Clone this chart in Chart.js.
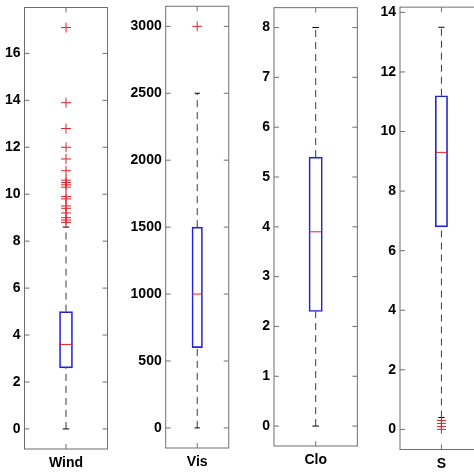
<!DOCTYPE html>
<html><head><meta charset="utf-8">
<script src="https://cdn.jsdelivr.net/npm/chart.js@4"></script>
<style>
html,body{margin:0;padding:0;background:#fff;overflow:hidden;width:474px;height:474px;position:relative}
canvas{position:absolute;top:0}
</style></head>
<body>
<canvas id="c0"></canvas><canvas id="c1"></canvas><canvas id="c2"></canvas><canvas id="c3"></canvas>
<script>
// ---- data ----
const categories = ['Wind', 'Vis', 'Clo', 'S'];
const q1 = [2.6, 600, 2.3, 6.8];
const median = [3.6, 1000, 3.9, 9.3];
const q3 = [5.0, 1500, 5.4, 11.2];
const whiskerLow = [0, 0, 0, 0.4];
const whiskerHigh = [8.6, 2500, 8, 13.5];
const outliersWind = [8.8, 8.9, 9.0, 9.2, 9.4, 9.5, 9.8, 9.9, 10.3, 10.4, 10.5, 10.6, 11.0, 11.5, 12.0, 12.8, 13.9, 17.1];
const outliersVis = [3000];
const outliersClo = [];
const outliersS = [0.0, 0.1, 0.2, 0.3];
const outliers = [outliersWind, outliersVis, outliersClo, outliersS];
const yMin = [-0.855, -150, -0.4, -0.675];
const yMax = [17.955, 3150, 8.4, 14.175];
const ticksWind = [0, 2, 4, 6, 8, 10, 12, 14, 16];
const ticksVis = [0, 500, 1000, 1500, 2000, 2500, 3000];
const ticksClo = [0, 1, 2, 3, 4, 5, 6, 7, 8];
const ticksS = [0, 2, 4, 6, 8, 10, 12, 14];
const yTicks = [ticksWind, ticksVis, ticksClo, ticksS];

// ---- layout (pixels) ----
const layout = [
  {left: 0,   width: 115, areaLeft: 24.5, areaRight: 107.5, top: 5,   bottom: 449, box: 13,   cross: 5},
  {left: 115, width: 120, areaLeft: 165.7, areaRight: 232.7, top: 5,  bottom: 448, box: 10.5, cross: 5},
  {left: 235, width: 130, areaLeft: 274, areaRight: 361.3, top: 6,    bottom: 446, box: 13.3, cross: 5},
  {left: 365, width: 125, areaLeft: 400, areaRight: 483.4, top: 5.8,  bottom: 449.5, box: 12.3, cross: 4.5}
];

const BLUE = '#2323d8', RED = '#e8202a', DASH = '#3a3a3a', FRAME = '#6f6f6f';
const FONT = {family: "'Liberation Sans', Arial, sans-serif", size: 14, weight: 'bold'};

const framePlugin = {
  id: 'frame',
  afterDraw(chart) {
    const {ctx, chartArea: a, scales} = chart;
    const T = 5;
    ctx.save();
    ctx.strokeStyle = FRAME;
    ctx.lineWidth = 1;
    ctx.strokeRect(a.left, a.top, a.right - a.left, a.bottom - a.top);
    ctx.beginPath();
    scales.y.ticks.forEach(t => {
      const y = scales.y.getPixelForValue(t.value);
      ctx.moveTo(a.left, y); ctx.lineTo(a.left + T, y);
      ctx.moveTo(a.right, y); ctx.lineTo(a.right - T, y);
    });
    scales.x.ticks.forEach((t, i) => {
      const x = scales.x.getPixelForTick(i);
      ctx.moveTo(x, a.bottom); ctx.lineTo(x, a.bottom - T);
      ctx.moveTo(x, a.top); ctx.lineTo(x, a.top + T);
    });
    ctx.stroke();
    ctx.restore();
  }
};

categories.forEach((cat, i) => {
  const L = layout[i];
  const cv = document.getElementById('c' + i);
  cv.width = L.width; cv.height = 474;
  cv.style.left = L.left + 'px';
  cv.style.width = L.width + 'px'; cv.style.height = '474px';
  new Chart(cv, {
    type: 'bar',
    data: {
      labels: [cat],
      datasets: [
        {type: 'line', data: [{x: cat, y: median[i]}], showLine: false, pointStyle: 'line',
          pointRadius: L.box / 2, pointBorderColor: RED, pointBorderWidth: 1, order: 0},
        {type: 'line', data: outliers[i].map(v => ({x: cat, y: v})), showLine: false, pointStyle: 'cross',
          pointRadius: L.cross, pointBorderColor: RED, pointBorderWidth: 1, order: 0},
        {type: 'bar', data: [[q1[i], q3[i]]], backgroundColor: 'rgba(255,255,255,0)', borderColor: BLUE,
          borderWidth: 1, borderSkipped: false, barThickness: L.box, order: 1},
        {type: 'line', data: [{x: cat, y: whiskerLow[i]}, {x: cat, y: whiskerHigh[i]}], showLine: false,
          pointStyle: 'line', pointRadius: L.box / 4, pointBorderColor: '#000', pointBorderWidth: 1, order: 2},
        {type: 'line', data: [{x: cat, y: q3[i]}, {x: cat, y: whiskerHigh[i]}], borderColor: DASH,
          borderWidth: 1, borderDash: [7, 5], pointRadius: 0, order: 3},
        {type: 'line', data: [{x: cat, y: whiskerLow[i]}, {x: cat, y: q1[i]}], borderColor: DASH,
          borderWidth: 1, borderDash: [7, 5], pointRadius: 0, order: 3}
      ]
    },
    options: {
      responsive: false, animation: false, events: [],
      plugins: {legend: {display: false}, tooltip: {enabled: false}},
      layout: {padding: {left: 0, right: L.left + L.width - L.areaRight, top: L.top, bottom: 0}},
      scales: {
        x: {
          grid: {display: false, drawTicks: false}, border: {display: false},
          ticks: {padding: 6, color: '#000', font: FONT, maxRotation: 0},
          afterFit: s => { s.height = 474 - L.bottom; s.paddingLeft = 0; s.paddingRight = 0; }
        },
        y: {
          min: yMin[i], max: yMax[i],
          grid: {display: false, drawTicks: false}, border: {display: false},
          ticks: {padding: 4, color: '#000', font: FONT, callback: v => String(v)},
          afterBuildTicks: s => { s.ticks = yTicks[i].map(v => ({value: v})); },
          afterFit: s => { s.width = L.areaLeft - L.left; s.paddingTop = 0; s.paddingBottom = 0; }
        }
      }
    },
    plugins: [framePlugin]
  });
});
</script>
</body></html>
